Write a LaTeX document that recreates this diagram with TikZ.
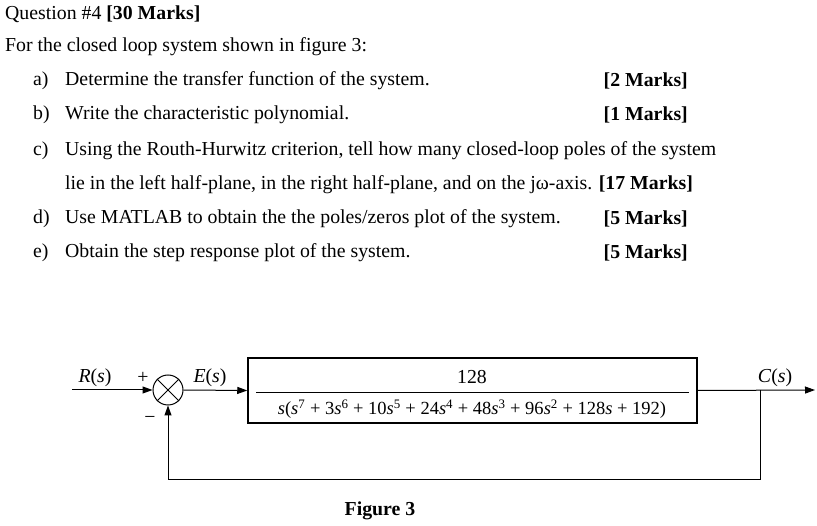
\documentclass[tikz,border=0pt]{standalone}
\usepackage{fontspec}
\setmainfont{Liberation Serif}
\usetikzlibrary{arrows.meta}
\newcommand{\iv}[1]{\textit{#1}}
\newcommand{\pw}[1]{\textsuperscript{#1}}
\begin{document}
\begin{tikzpicture}[x=1pt,y=-1pt,
  txt/.style={anchor=west,inner sep=0pt,font=\fontsize{19.8}{22}\selectfont},
  mk/.style={anchor=east,inner sep=0pt,font=\fontsize{19.8}{22}\selectfont\bfseries},
  lbl/.style={inner sep=0pt,font=\fontsize{19.8}{22}\selectfont},
  sig/.style={line width=1pt,-{Triangle[length=10pt,width=7pt]}},
  ln/.style={line width=1pt}]
\useasboundingbox (0,0) rectangle (817,526);
\node[txt] (q) at (5,14) {Question \#4 \textbf{[30 Marks]}};
\node[txt] (f) at (5,47) {For the closed loop system shown in figure 3:};
\node[txt] (la) at (33,81) {a)}; \node[txt] (ta) at (65,81) {Determine the transfer function of the system.}; \node[mk] (ma) at (688,81) {[2 Marks]};
\node[txt] (lb) at (33,115) {b)}; \node[txt] (tb) at (65,115) {Write the characteristic polynomial.}; \node[mk] (mb) at (688,115) {[1 Marks]};
\node[txt] (lc) at (33,151) {c)}; \node[txt] (tc) at (65,151) {Using the Routh-Hurwitz criterion, tell how many closed-loop poles of the system};
\node[txt] (tc2) at (65,185) {lie in the left half-plane, in the right half-plane, and on the jω-axis. \textbf{[17 Marks]}};
\node[txt] (ld) at (33,219) {d)}; \node[txt] (td) at (65,219) {Use MATLAB to obtain the the poles/zeros plot of the system.}; \node[mk] (md) at (688,219) {[5 Marks]};
\node[txt] (le) at (33,253) {e)}; \node[txt] (te) at (65,253) {Obtain the step response plot of the system.}; \node[mk] (me) at (688,253) {[5 Marks]};
% diagram
\coordinate (in) at (72,390);
\node[circle,draw,line width=1pt,minimum size=30pt,inner sep=0pt] (sum) at (168,390) {};
\draw[line width=1pt] (sum.north west)--(sum.south east) (sum.north east)--(sum.south west);
\node[draw,line width=1.5pt,minimum width=449pt,minimum height=65pt,inner sep=0pt] (G) at (472.5,390.5) {};
\node[lbl] (num) at (472,377) {128};
\draw[line width=0.8pt] (256,392)--(689,392);
\node[lbl,font=\fontsize{18.5}{22}\selectfont] (den) at (472,409) {\iv{s}(\iv{s}\pw{7} + 3\iv{s}\pw{6} + 10\iv{s}\pw{5} + 24\iv{s}\pw{4} + 48\iv{s}\pw{3} + 96\iv{s}\pw{2} + 128\iv{s} + 192)};
\coordinate (out) at (815,390);
\coordinate (br) at (760,390);
\coordinate (fb1) at (760,480);
\coordinate (fb2) at (168,480);
\draw[sig] (in) -- (sum.west);
\draw[sig] (sum.east) -- (G.west);
\draw[sig] (G.east) -- (out);
\draw[ln] (br) -- (fb1) -- (fb2);
\draw[sig] (fb2) -- (sum.south);
\node[lbl] (R) at (95,378) {\iv{R}(\iv{s})};
\node[lbl] (p) at (143,378) {+};
\node[lbl] (m) at (150,420) {\textminus};
\node[lbl] (E) at (210,378) {\iv{E}(\iv{s})};
\node[lbl] (C) at (775,378) {\iv{C}(\iv{s})};
\node[lbl,font=\fontsize{19.8}{22}\selectfont\bfseries] (fig) at (380,511) {Figure 3};
\end{tikzpicture}
\end{document}
